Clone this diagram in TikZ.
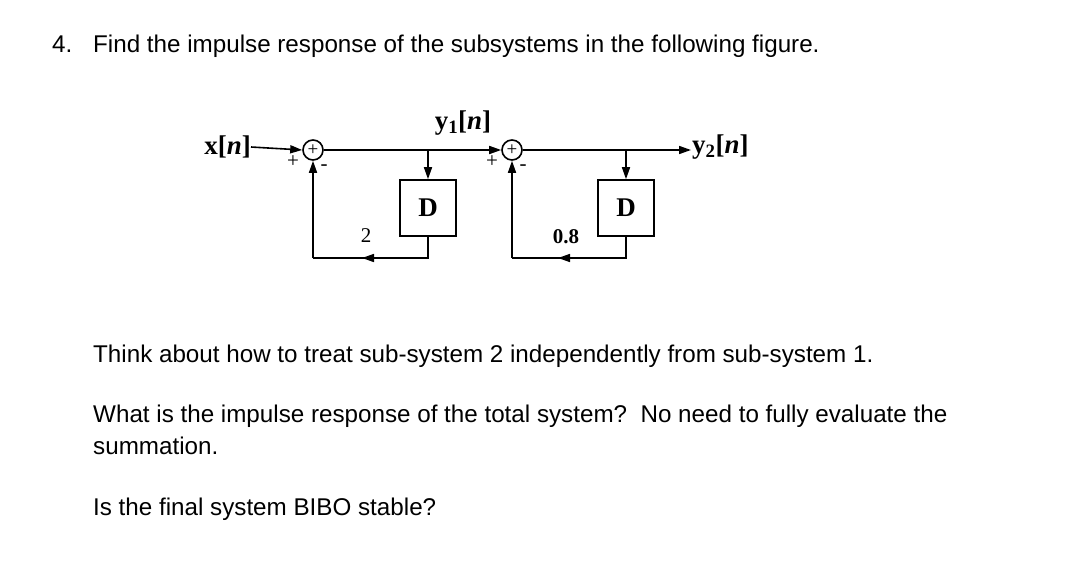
\documentclass[tikz,border=0pt]{standalone}
\usepackage{fontspec}
\setmainfont{Liberation Sans}
\newfontfamily\tnr{Liberation Serif}
\usetikzlibrary{arrows.meta}
\begin{document}
\begin{tikzpicture}[x=1pt,y=-1pt,
  txt/.style={anchor=base west,inner sep=0,font=\fontsize{24.2}{28}\selectfont},
  sig/.style={inner sep=0,font=\tnr\bfseries\fontsize{27}{30}\selectfont},
  sumn/.style={circle,draw,line width=1.6pt,minimum size=20pt,inner sep=0,font=\tnr\fontsize{19}{19}\selectfont},
  dbox/.style={draw,line width=1.6pt,minimum width=56pt,minimum height=56pt,inner sep=0,font=\tnr\bfseries\fontsize{27}{30}\selectfont},
  wire/.style={line width=1.6pt},
  arr/.style={wire,-{Triangle[length=12pt,width=8pt]}},
  lbl/.style={inner sep=0,font=\tnr\fontsize{21}{24}\selectfont}]
\useasboundingbox (0,0) rectangle (1075,588);
\fill[white] (0,0) rectangle (1075,588);
\node[txt] (num) at (52,53) {4.};
\node[txt] (t1) at (93,53) {Find the impulse response of the subsystems in the following figure.};
\node[txt] (t2) at (93,362) {Think about how to treat sub-system 2 independently from sub-system 1.};
\node[txt] (t3) at (93,422) {What is the impulse response of the total system?\ \ No need to fully evaluate the};
\node[txt] (t4) at (93,454) {summation.};
\node[txt] (t5) at (93,515) {Is the final system BIBO stable?};
% diagram
\node[sig,anchor=east] (x) at (251,147) {x[\textit{n}]};
\node[sumn] (s1) at (313,150) {+};
\node[sumn] (s2) at (512,150) {+};
\node[dbox] (d1) at (428,208) {D};
\node[dbox] (d2) at (626,208) {D};
\node[sig,anchor=west] (y2) at (692,147) {y\textsubscript{2}[\textit{n}]};
\node[sig] (y1) at (463,123) {y\textsubscript{1}[\textit{n}]};
\coordinate (o) at (691,150);
\draw[arr] (x.east) -- (s1.west);
\draw[arr] (s1.east) -- (s2.west);
\draw[arr] (s2.east) -- (o);
\draw[arr] (428,150) -- (d1.north);
\draw[arr] (626,150) -- (d2.north);
\draw[wire] (d1.south) -- (428,258) -- (313,258);
\draw[arr] (428,258) -- (362,258);
\draw[arr] (313,258) -- (s1.south);
\draw[wire] (d2.south) -- (626,258) -- (512,258);
\draw[arr] (626,258) -- (558,258);
\draw[arr] (512,258) -- (s2.south);
\node[lbl] (g1) at (366,236) {2};
\node[lbl,font=\tnr\bfseries\fontsize{21}{24}\selectfont] (g2) at (566,237) {0.8};
\node[lbl] (p1) at (293,162) {+};
\node[lbl] (p2) at (492,162) {+};
\node[lbl] (m1) at (324,168) {-};
\node[lbl] (m2) at (523,168) {-};
\end{tikzpicture}
\end{document}
